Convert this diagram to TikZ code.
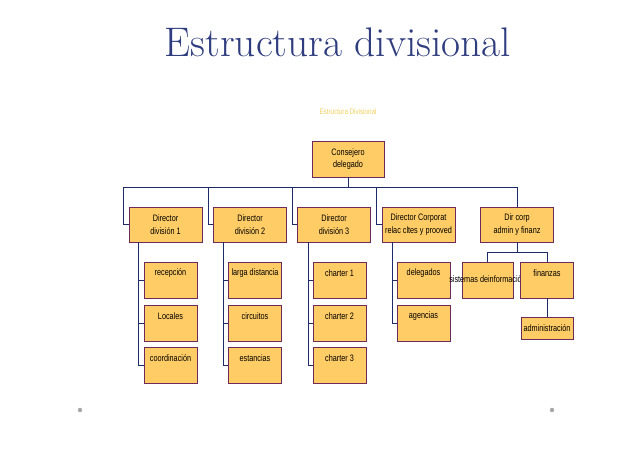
\documentclass[tikz,border=0pt]{standalone}
\usepackage{fontspec}
\newfontfamily\nar[FakeStretch=0.78]{Liberation Sans}
\definecolor{boxfill}{HTML}{FFCC66}
\definecolor{boxline}{HTML}{6E2A5A}
\definecolor{lineblue}{HTML}{1F2A6B}
\definecolor{titleblue}{HTML}{2F3D7E}
\definecolor{subyel}{HTML}{F0D060}
\begin{document}
\begin{tikzpicture}[x=0.75pt,y=-0.75pt,
  box/.style={draw=boxline,fill=boxfill,line width=0.6pt,inner sep=0pt,align=center,font=\nar\fontsize{7}{9.5}\selectfont},
  lbox/.style={box,minimum width=54.75pt,minimum height=26.25pt},
  cbox/.style={box,minimum width=39.75pt,minimum height=27pt},
  ctext/.style={font=\nar\fontsize{7}{9.5}\selectfont,anchor=center},
  conn/.style={draw=lineblue,line width=0.6pt}]
\useasboundingbox (0,0) rectangle (638,451);
\node[font=\fontsize{31}{36}\selectfont,text=titleblue] (title) at (338,42) {Estructura divisional};
\node[font=\nar\fontsize{6}{7}\selectfont,text=subyel] (sub) at (348,112) {Estructura Divisional};
\node[box,minimum width=54pt,minimum height=27pt] (cons) at (348,159) {Consejero\\delegado};
\node[lbox] (d1) at (165.5,224.5) {Director\\división 1};
\node[lbox] (d2) at (250,224.5) {Director\\división 2};
\node[lbox] (d3) at (334,224.5) {Director\\división 3};
\node[lbox] (d4) at (418.5,224.5) {Director Corporat\\relac cltes y prooved};
\node[lbox] (d5) at (517,224.5) {Dir corp\\admin y finanz};
% bus
\coordinate (bL) at (123,187);
\coordinate (b2) at (208,187);
\coordinate (b3) at (292,187);
\coordinate (b4) at (376,187);
\coordinate (bR) at (517,187);
\draw[conn] (cons.south) -- (cons.south |- bL);
\draw[conn] (bL) -- (bR);
\draw[conn] (bL) |- (d1.west);
\draw[conn] (b2) |- (d2.west);
\draw[conn] (b3) |- (d3.west);
\draw[conn] (b4) |- (d4.west);
\draw[conn] (bR) -- (d5.north);
% children columns
\foreach \c/\vx/\cx/\n/\labs in {1/138/170.5/3/{recepción,Locales,coordinación},
  2/223/255/3/{larga distancia,circuitos,estancias},
  3/308/339.5/3/{charter 1,charter 2,charter 3},
  4/392/423.5/2/{delegados,agencias}}{
  \coordinate (v\c) at (\vx,242);
  \foreach \t [count=\k] in \labs {
    \pgfmathsetmacro{\yy}{\k==1 ? 280 : (\k==2 ? 323.5 : 365.5)}
    \node[cbox] (c\c\k) at (\cx,\yy) {};
    \node[ctext] (t\c\k) at ([yshift=-8.5pt]c\c\k.north) {\t};
    \draw[conn] (c\c\k.west -| v\c) -- (c\c\k.west);
  }
  \draw[conn] (v\c) |- (c\c\n.west);
}
% column 5
\node[box,minimum width=38.25pt,minimum height=27pt] (sis) at (487.5,280) {};
\node[ctext] (tsis) at ([yshift=-13pt]sis.north) {sistemas de\\información};
\node[cbox] (fin) at (547,280) {};
\node[ctext] (tfin) at ([yshift=-8.5pt]fin.north) {finanzas};
\node[box,minimum width=39pt,minimum height=16.5pt] (adm) at (547,328) {administración};
\coordinate (j5) at (517,252);
\draw[conn] (d5.south) -- (j5);
\draw[conn] (sis.north |- j5) -- (fin.north |- j5);
\draw[conn] (sis.north |- j5) -- (sis.north);
\draw[conn] (fin.north |- j5) -- (fin.north);
\draw[conn] (fin.south) -- (adm.north);
\fill[gray!70] (80,410) circle (2.2);
\fill[gray!70] (552,410) circle (2.2);
\end{tikzpicture}
\end{document}
